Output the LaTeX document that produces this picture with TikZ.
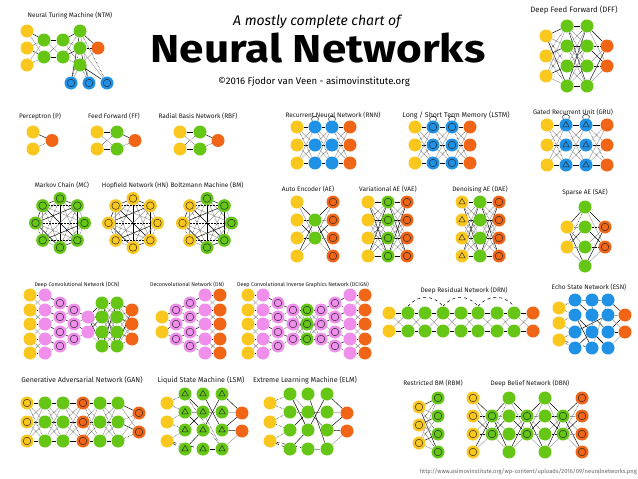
\documentclass[tikz,border=0pt]{standalone}
\usepackage{fontspec}
\setmainfont{Fira Sans}
\usetikzlibrary{calc}
\pgfdeclarelayer{back}
\pgfdeclarelayer{bg}
\pgfsetlayers{back,bg,main}
\definecolor{colY}{RGB}{250,199,30}
\definecolor{colG}{RGB}{102,198,22}
\definecolor{colO}{RGB}{240,102,22}
\definecolor{colB}{RGB}{32,146,230}
\definecolor{colP}{RGB}{240,142,236}
\tikzset{
 nd/.style={circle,inner sep=0pt,minimum size=13pt,draw=none},
 inp/.style={nd,fill=colY}, hid/.style={nd,fill=colG}, outp/.style={nd,fill=colO},
 rec/.style={nd,fill=colB}, knl/.style={nd,fill=colP},
 ring/.style={path picture={\draw[line width=0.45pt,black!85] (path picture bounding box.center) circle (3.8pt);}},
 tri/.style={path picture={\draw[line width=0.45pt,black!85,shift={(path picture bounding box.center)}] (90:3.6pt) -- (210:3.6pt) -- (330:3.6pt) -- cycle;}},
 inpR/.style={inp,ring}, hidR/.style={hid,ring}, outR/.style={outp,ring}, recR/.style={rec,ring}, knlR/.style={knl,ring},
 inpT/.style={inp,tri}, hidT/.style={hid,tri}, recT/.style={rec,tri},
 lnA/.style={black,line width=0.45pt}, lnB/.style={black,line width=0.5pt,densely dotted},
 lnC/.style={black!40,line width=0.45pt}, lnD/.style={black,line width=0.5pt,dashed},
 lbl/.style={font=\fontsize{6.5}{7}\selectfont,inner sep=0pt,text=black!90},
 lblS/.style={lbl,font=\fontsize{5.4}{6}\selectfont},
 lblL/.style={lbl,font=\fontsize{7.1}{8}\selectfont},
}
\newcommand\NNcol[4]{\foreach \yy [count=\ii] in {#3}{\node[#4] (#1-\ii) at (#2,\yy) {};}}
\newcommand\NNfull[4]{%
 \begin{pgfonlayer}{bg}%
 \foreach \ia in {1,...,#2}{\foreach \ib in {1,...,#4}{%
   \pgfmathtruncatemacro\kk{mod(\ia+2*\ib,3)}%
   \ifcase\kk\relax \draw[lnA] (#1-\ia) -- (#3-\ib);\or \draw[lnB] (#1-\ia) -- (#3-\ib);\else \draw[lnC] (#1-\ia) -- (#3-\ib);\fi
 }}%
 \end{pgfonlayer}}
\newcommand\NNloc[4]{%
 \begin{pgfonlayer}{bg}%
 \foreach \ia in {1,...,#2}{\foreach \ib in {1,...,#4}{%
   \pgfmathtruncatemacro\ok{abs(\ib+(#2-#4)/2-\ia)<=1.01}%
   \ifnum\ok=1\relax
   \pgfmathtruncatemacro\kk{mod(\ia+\ib,2)}%
   \ifcase\kk\relax \draw[lnA] (#1-\ia) -- (#3-\ib);\else \draw[lnB] (#1-\ia) -- (#3-\ib);\fi
   \fi
 }}%
 \end{pgfonlayer}}
\newcommand\NNoct[4]{\foreach \st [count=\ii] in {#4}{\pgfmathsetmacro\ang{90-45*(\ii-1)}\node[\st] (#1-\ii) at ($(#2,#3)+(\ang:24.5pt)$) {};}}
\newcommand\NNclique[1]{%
 \begin{pgfonlayer}{bg}%
 \foreach \ia in {1,...,8}{\foreach \ib in {1,...,8}{%
   \ifnum\ib>\ia\relax
   \pgfmathtruncatemacro\kk{mod(\ia+\ib,3)}%
   \ifcase\kk\relax \draw[lnA] (#1-\ia) -- (#1-\ib);\or \draw[lnB] (#1-\ia) -- (#1-\ib);\else \draw[lnC] (#1-\ia) -- (#1-\ib);\fi
   \fi
 }}%
 \end{pgfonlayer}}
\newcommand\NNloop[1]{\begin{pgfonlayer}{bg}\draw[lnA] (#1.65) .. controls +(65:7pt) and +(115:7pt) .. (#1.115);\end{pgfonlayer}}
\newcommand\NNedges[1]{\begin{pgfonlayer}{bg}\foreach \u/\v/\s in {#1}{\draw[\s] (\u) -- (\v);}\end{pgfonlayer}}
\begin{document}
\begin{tikzpicture}[x=1pt,y=-1pt]
\begin{pgfonlayer}{back}
\fill[white] (0,0) rectangle (638,479);
\end{pgfonlayer}
\useasboundingbox (0,0) rectangle (638,479);
% titles
\node[font=\fontsize{14}{16}\selectfont\itshape] (t1) at (317,22) {A mostly complete chart of};
\node[font=\fontsize{39}{44}\selectfont\bfseries,inner sep=0pt] (t2) at (318,48) {\scalebox{1.13}[1]{Neural Networks}};
\node[font=\fontsize{9.6}{11}\selectfont,inner sep=0pt] (t3) at (314,82) {©2016 Fjodor van Veen - asimovinstitute.org};
\node[font=\fontsize{5.8}{7}\selectfont,text=black!60,anchor=east,inner sep=0pt] (url) at (637,472) {http://www.asimovinstitute.org/wp-content/uploads/2016/09/neuralnetworks.png};
% NTM
\node[lbl] (ntm-l) at (70,15) {Neural Turing Machine (NTM)};
\NNcol{ntmA}{27}{31,48,65}{inp}
\NNcol{ntmB}{44}{40,57}{hid}
\NNcol{ntmC}{63}{40,57}{hid}
\NNcol{ntmD}{80}{31,48,65}{hid}
\node[outp] (ntmE-1) at (98,48) {};
\node[recR] (ntmM-1) at (71,83) {};
\node[recR] (ntmM-2) at (89,83) {};
\node[recR] (ntmM-3) at (107,83) {};
\NNfull{ntmA}{3}{ntmB}{2}\NNfull{ntmB}{2}{ntmC}{2}\NNfull{ntmC}{2}{ntmD}{3}
\NNfull{ntmD}{3}{ntmE}{1}\NNfull{ntmD}{3}{ntmM}{3}
% DFF
\node[lbl,font=\fontsize{7.8}{9}\selectfont] (dff-l) at (574,10) {Deep Feed Forward (DFF)};
\NNcol{dffA}{546}{36,56,76}{inp}
\NNcol{dffB}{567}{26,46,66,86}{hid}
\NNcol{dffC}{587}{26,46,66,86}{hid}
\NNcol{dffD}{607}{46,66}{outp}
\NNfull{dffA}{3}{dffB}{4}\NNfull{dffB}{4}{dffC}{4}\NNfull{dffC}{4}{dffD}{2}
% P, FF, RBF
\node[lbl] (p-l) at (40,116) {Perceptron (P)};
\NNcol{pA}{33}{132,149}{inp}
\node[outp] (pB-1) at (52,140.5) {};
\NNfull{pA}{2}{pB}{1}
\node[lbl] (ff-l) at (114,116) {Feed Forward (FF)};
\NNcol{ffA}{97}{132,149}{inp}
\NNcol{ffB}{117}{132,149}{hid}
\node[outp] (ffC-1) at (135,140.5) {};
\NNfull{ffA}{2}{ffB}{2}\NNfull{ffB}{2}{ffC}{1}
\node[lbl] (rbf-l) at (198,116) {Radial Basis Network (RBF)};
\NNcol{rbfA}{180}{132,149}{inp}
\NNcol{rbfB}{200}{132,149}{hid}
\node[outp] (rbfC-1) at (218,140.5) {};
\NNfull{rbfA}{2}{rbfB}{2}\NNfull{rbfB}{2}{rbfC}{1}
% RNN
\node[lbl] (rnn-l) at (333,115) {Recurrent Neural Network (RNN)};
\NNcol{rnnA}{297}{127,145,163}{inp}
\NNcol{rnnB}{315}{127,145,163}{rec}
\NNcol{rnnC}{332}{127,145,163}{rec}
\NNcol{rnnD}{350}{127,145,163}{outp}
\NNfull{rnnA}{3}{rnnB}{3}\NNfull{rnnB}{3}{rnnC}{3}\NNfull{rnnC}{3}{rnnD}{3}
\NNloop{rnnB-1}\NNloop{rnnC-1}
% LSTM
\node[lbl,font=\fontsize{7}{8}\selectfont] (lstm-l) at (456,115) {Long / Short Term Memory (LSTM)};
\NNcol{lstmA}{415}{127,145,163}{inp}
\NNcol{lstmB}{433}{127,145,163}{recR}
\NNcol{lstmC}{452}{127,145,163}{recR}
\NNcol{lstmD}{470}{127,145,163}{outp}
\NNfull{lstmA}{3}{lstmB}{3}\NNfull{lstmB}{3}{lstmC}{3}\NNfull{lstmC}{3}{lstmD}{3}
\NNloop{lstmB-1}\NNloop{lstmC-1}
% GRU
\node[lbl] (gru-l) at (573,112) {Gated Recurrent Unit (GRU)};
\NNcol{gruA}{547}{125,145,165}{inp}
\NNcol{gruB}{566}{125,145,165}{recT}
\NNcol{gruC}{586}{125,145,165}{recT}
\NNcol{gruD}{607}{125,145,165}{outp}
\NNfull{gruA}{3}{gruB}{3}\NNfull{gruB}{3}{gruC}{3}\NNfull{gruC}{3}{gruD}{3}
\NNloop{gruB-1}\NNloop{gruC-1}
% MC, HN, BM
\node[lbl] (mc-l) at (62,185) {Markov Chain (MC)};
\NNoct{mc}{60}{223}{hidR,hidR,hidR,hidR,hidR,hidR,hidR,hidR}
\NNclique{mc}
\node[lbl] (hn-l) at (135,185) {Hopfield Network (HN)};
\NNoct{hn}{133}{223}{inpR,inpR,inpR,inpR,inpR,inpR,inpR,inpR}
\NNclique{hn}
\node[lbl] (bm-l) at (207,185) {Boltzmann Machine (BM)};
\NNoct{bm}{207}{223}{hidR,hidR,hidR,hidR,hidR,inpR,inpR,inpR}
\NNclique{bm}
% AE
\node[lbl] (ae-l) at (308,189) {Auto Encoder (AE)};
\NNcol{aeA}{297}{202,220,238,256}{inp}
\NNcol{aeB}{315}{220,238}{hid}
\NNcol{aeC}{333}{202,220,238,256}{outR}
\NNfull{aeA}{4}{aeB}{2}\NNfull{aeB}{2}{aeC}{4}
% VAE
\node[lbl] (vae-l) at (388,189) {Variational AE (VAE)};
\NNcol{vaeA}{368}{202,220,238,256}{inp}
\NNcol{vaeB}{388}{202,220,238,256}{hidR}
\NNcol{vaeC}{407}{202,220,238,256}{outR}
\NNfull{vaeA}{4}{vaeB}{4}\NNfull{vaeB}{4}{vaeC}{4}
% DAE
\node[lbl] (dae-l) at (480,189) {Denoising AE (DAE)};
\NNcol{daeA}{462}{202,220,238,256}{inpT}
\NNcol{daeB}{480}{202,220,238,256}{hid}
\NNcol{daeC}{499}{202,220,238,256}{outR}
\NNfull{daeA}{4}{daeB}{4}\NNfull{daeB}{4}{daeC}{4}
% SAE
\node[lbl] (sae-l) at (585,192) {Sparse AE (SAE)};
\NNcol{saeA}{567}{227,247}{inp}
\NNcol{saeB}{585}{207,227,247,266}{hid}
\NNcol{saeC}{605}{227,247}{outR}
\NNfull{saeA}{2}{saeB}{4}\NNfull{saeB}{4}{saeC}{2}
% DCN
\node[lblS] (dcn-l) at (77,285) {Deep Convolutional Network (DCN)};
\NNcol{dcnA}{30}{295,310,324,339,353}{inp}
\NNcol{dcnB}{45}{295,310,324,339,353}{knl}
\NNcol{dcnC}{60}{303,317,332,346}{knlR}
\NNcol{dcnD}{74}{310,324,339}{knlR}
\NNcol{dcnE}{88}{317,332}{knl}
\NNcol{dcnF}{102}{303,317,332,346}{hid}
\NNcol{dcnG}{117}{303,317,332,346}{hid}
\NNcol{dcnH}{132}{310,324,339}{outp}
\NNloc{dcnA}{5}{dcnB}{5}\NNloc{dcnB}{5}{dcnC}{4}\NNloc{dcnC}{4}{dcnD}{3}\NNloc{dcnD}{3}{dcnE}{2}
\NNfull{dcnE}{2}{dcnF}{4}\NNfull{dcnF}{4}{dcnG}{4}\NNfull{dcnG}{4}{dcnH}{3}
% DN
\node[lblS] (dn-l) at (187,285) {Deconvolutional Network (DN)};
\NNcol{dnA}{162}{317,332}{inp}
\NNcol{dnB}{176}{310,324,339}{knlR}
\NNcol{dnC}{190}{303,317,332,346}{knlR}
\NNcol{dnD}{205}{295,310,324,339,353}{knl}
\NNcol{dnE}{220}{295,310,324,339,353}{outp}
\NNloc{dnA}{2}{dnB}{3}\NNloc{dnB}{3}{dnC}{4}\NNloc{dnC}{4}{dnD}{5}\NNloc{dnD}{5}{dnE}{5}
% DCIGN
\node[lblS] (dci-l) at (303,285) {Deep Convolutional Inverse Graphics Network (DCIGN)};
\NNcol{dciA}{248}{295,310,324,339,353}{inp}
\NNcol{dciB}{263}{295,310,324,339,353}{knl}
\NNcol{dciC}{278}{303,317,332,346}{knlR}
\NNcol{dciD}{293}{310,324,339}{knlR}
\NNcol{dciE}{307}{310,324,339}{hidR}
\NNcol{dciF}{321}{310,324,339}{knlR}
\NNcol{dciG}{335}{303,317,332,346}{knlR}
\NNcol{dciH}{350}{295,310,324,339,353}{knl}
\NNcol{dciI}{365}{295,310,324,339,353}{outp}
\NNloc{dciA}{5}{dciB}{5}\NNloc{dciB}{5}{dciC}{4}\NNloc{dciC}{4}{dciD}{3}
\NNfull{dciD}{3}{dciE}{3}\NNfull{dciE}{3}{dciF}{3}
\NNloc{dciF}{3}{dciG}{4}\NNloc{dciG}{4}{dciH}{5}\NNloc{dciH}{5}{dciI}{5}
% DRN
\node[lbl] (drn-l) at (464,290) {Deep Residual Network (DRN)};
\NNcol{drnA}{389}{313,331}{inp}
\NNcol{drnB}{408}{313,331}{hid}
\NNcol{drnC}{425}{313,331}{hid}
\NNcol{drnD}{443}{313,331}{hid}
\NNcol{drnE}{461}{313,331}{hid}
\NNcol{drnF}{478}{313,331}{hid}
\NNcol{drnG}{497}{313,331}{hid}
\NNcol{drnH}{514}{313,331}{hid}
\NNcol{drnI}{533}{313,331}{outp}
\NNfull{drnA}{2}{drnB}{2}\NNfull{drnB}{2}{drnC}{2}\NNfull{drnC}{2}{drnD}{2}\NNfull{drnD}{2}{drnE}{2}
\NNfull{drnE}{2}{drnF}{2}\NNfull{drnF}{2}{drnG}{2}\NNfull{drnG}{2}{drnH}{2}\NNfull{drnH}{2}{drnI}{2}
\begin{pgfonlayer}{bg}
\draw[lnD] (drnB-1.north) .. controls +(10,-12) and +(-10,-12) .. (drnD-1.north);
\draw[lnD] (drnD-1.north) .. controls +(10,-12) and +(-10,-12) .. (drnF-1.north);
\draw[lnD] (drnF-1.north) .. controls +(10,-12) and +(-10,-12) .. (drnH-1.north);
\end{pgfonlayer}
% ESN
\node[lbl] (esn-l) at (589,287) {Echo State Network (ESN)};
\NNcol{esnA}{559}{308,323,340}{inp}
\NNcol{esnB}{575}{300,315,332,348}{rec}
\NNcol{esnC}{592}{300,315,332,348}{rec}
\NNcol{esnD}{608}{300,315,332,348}{rec}
\NNcol{esnE}{625}{315,332}{outp}
\NNedges{esnA-1/esnB-1/lnB,esnA-1/esnB-2/lnB,esnA-2/esnB-2/lnB,esnA-2/esnB-3/lnB,esnA-3/esnB-3/lnB,esnA-3/esnB-4/lnB,esnA-3/esnC-4/lnD,
 esnB-1/esnC-2/lnA,esnB-2/esnD-4/lnA,esnB-3/esnD-2/lnA,esnB-4/esnC-3/lnA,esnC-1/esnC-3/lnC,esnC-2/esnD-3/lnA,esnD-1/esnC-4/lnC,esnB-2/esnC-4/lnA,esnC-3/esnD-4/lnA,esnB-1/esnD-1/lnC,
 esnD-1/esnE-1/lnA,esnD-2/esnE-1/lnC,esnD-3/esnE-1/lnA,esnD-3/esnE-2/lnA,esnD-4/esnE-2/lnC,esnD-2/esnE-2/lnC}
% GAN
\node[lblL] (gan-l) at (82,380) {Generative Adversarial Network (GAN)};
\NNcol{ganA}{27}{403,422,441}{inpR}
\NNcol{ganB}{45}{403,422,441}{hid}
\NNcol{ganC}{63}{403,422,441}{hid}
\NNcol{ganD}{83}{403,422,441}{outR}
\NNcol{ganE}{100}{403,422,441}{hid}
\NNcol{ganF}{118}{403,422,441}{hid}
\NNcol{ganG}{139}{413,432}{outR}
\NNfull{ganA}{3}{ganB}{3}\NNfull{ganB}{3}{ganC}{3}\NNfull{ganC}{3}{ganD}{3}
\NNfull{ganD}{3}{ganE}{3}\NNfull{ganE}{3}{ganF}{3}\NNfull{ganF}{3}{ganG}{2}
% LSM
\node[lblL] (lsm-l) at (201,380) {Liquid State Machine (LSM)};
\NNcol{lsmA}{167}{403,422,441}{inp}
\NNcol{lsmB}{185}{394,412,430,449}{hidT}
\NNcol{lsmC}{203}{394,412,430,449}{hidT}
\NNcol{lsmD}{222}{394,412,430,449}{hidT}
\NNcol{lsmE}{242}{413,431}{outp}
\NNedges{lsmA-1/lsmB-1/lnB,lsmA-1/lsmB-2/lnB,lsmA-2/lsmB-2/lnB,lsmA-2/lsmB-3/lnB,lsmA-3/lsmB-3/lnB,lsmA-3/lsmB-4/lnD,lsmA-3/lsmC-4/lnD,
 lsmB-1/lsmC-2/lnA,lsmB-2/lsmC-3/lnA,lsmB-3/lsmC-2/lnA,lsmC-1/lsmD-3/lnA,lsmB-4/lsmC-3/lnA,lsmC-2/lsmD-4/lnB,lsmB-2/lsmD-2/lnC,lsmC-3/lsmD-1/lnA,lsmB-1/lsmD-4/lnB,lsmC-4/lsmD-4/lnA,
 lsmD-1/lsmE-1/lnA,lsmD-2/lsmE-1/lnC,lsmD-3/lsmE-1/lnA,lsmD-3/lsmE-2/lnA,lsmD-4/lsmE-2/lnC}
% ELM
\node[lblL] (elm-l) at (305,380) {Extreme Learning Machine (ELM)};
\NNcol{elmA}{270}{403,422,441}{inp}
\NNcol{elmB}{290}{394,412,430,449}{hid}
\NNcol{elmC}{308}{394,412,430,449}{hid}
\NNcol{elmD}{327}{394,412,430,449}{hid}
\NNcol{elmE}{347}{413,431}{outp}
\NNedges{elmA-1/elmB-1/lnB,elmA-1/elmB-2/lnB,elmA-2/elmB-2/lnB,elmA-2/elmB-3/lnB,elmA-3/elmB-3/lnB,elmA-3/elmB-4/lnD,elmA-3/elmC-4/lnD,
 elmB-1/elmC-3/lnA,elmB-2/elmD-2/lnC,elmB-3/elmC-2/lnA,elmC-1/elmD-4/lnA,elmB-4/elmC-3/lnA,elmC-2/elmD-3/lnB,elmB-1/elmD-3/lnB,elmC-3/elmD-1/lnA,elmC-4/elmD-4/lnC,
 elmD-1/elmE-1/lnA,elmD-2/elmE-1/lnC,elmD-3/elmE-1/lnA,elmD-3/elmE-2/lnA,elmD-4/elmE-2/lnC}
% RBM
\node[lbl] (rbm-l) at (433,383) {Restricted BM (RBM)};
\NNcol{rbmA}{419}{407,425,443}{inpR}
\NNcol{rbmB}{438}{398,416,434,452}{hidR}
\NNfull{rbmA}{3}{rbmB}{4}
% DBN
\node[lbl] (dbn-l) at (530,383) {Deep Belief Network (DBN)};
\NNcol{dbnA}{473}{398,416,434,452}{inpR}
\NNcol{dbnB}{492}{416,434}{hidR}
\NNcol{dbnC}{509}{398,416,434,452}{hid}
\NNcol{dbnD}{527}{416,434}{hidR}
\NNcol{dbnE}{545}{398,416,434,452}{hid}
\NNcol{dbnF}{563}{416,434}{hidR}
\NNcol{dbnG}{582}{398,416,434,452}{outR}
\NNfull{dbnA}{4}{dbnB}{2}\NNfull{dbnB}{2}{dbnC}{4}\NNfull{dbnC}{4}{dbnD}{2}
\NNfull{dbnD}{2}{dbnE}{4}\NNfull{dbnE}{4}{dbnF}{2}\NNfull{dbnF}{2}{dbnG}{4}
\end{tikzpicture}
\end{document}
